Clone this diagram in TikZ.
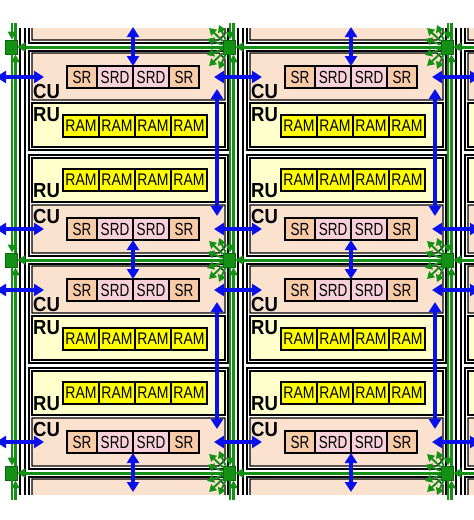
\documentclass[tikz,border=0pt]{standalone}
\usepackage{fontspec}
\setmainfont{Liberation Sans}
\usepackage{graphicx}
\usetikzlibrary{arrows.meta,calc,positioning,shapes.misc}

\definecolor{cufill}{RGB}{251,226,207}
\definecolor{rufill}{RGB}{255,255,204}
\definecolor{srfill}{RGB}{247,203,168}
\definecolor{srdfill}{RGB}{247,208,218}
\definecolor{ramfill}{RGB}{255,255,0}
\definecolor{netgreen}{RGB}{20,145,20}
\definecolor{linkblue}{RGB}{8,16,235}

\newcommand{\srtxt}[1]{\scalebox{1}[1.3]{#1}}
\newcommand{\ramtxt}[1]{\scalebox{1}[1.2]{#1}}
\newcommand{\unittxt}[1]{\scalebox{1}[1.1]{\bfseries #1}}

\begin{document}
\begin{tikzpicture}[
    x=1pt, y=-1pt,
    tileframe/.style={draw=black,line width=1.2pt,fill=white},
    cubox/.style={draw=black,line width=1.4pt,fill=cufill},
    rubox/.style={draw=black,line width=1.4pt,fill=rufill},
    blk/.style={draw=black,line width=1.1pt,inner sep=0pt,outer sep=0pt,minimum height=22pt,anchor=west},
    srblk/.style={blk,fill=srfill,minimum width=30pt,font=\fontsize{13.5}{14}\selectfont},
    srdblk/.style={blk,fill=srdfill,minimum width=36pt,font=\fontsize{13.5}{14}\selectfont},
    ramblk/.style={blk,fill=ramfill,minimum width=36pt,font=\fontsize{14}{15}\selectfont},
    unit/.style={inner sep=0pt,font=\fontsize{18.5}{19}\selectfont},
    router/.style={chamfered rectangle,chamfered rectangle corners={north west,south west},
        chamfered rectangle xsep=3pt,draw=netgreen!70!black,fill=netgreen,line width=0.6pt,
        inner sep=0pt,minimum width=12pt,minimum height=14pt},
    greenlink/.style={draw=netgreen,line width=2.4pt,-{Triangle[length=8pt,width=8pt]}},
    buslink/.style={draw=netgreen,line width=3pt,-{Triangle[length=8pt,width=9pt]}},
    fanlink/.style={draw=netgreen,line width=2pt,-{Triangle[length=7pt,width=8pt]}},
    duplex/.style={draw=linkblue,line width=3.5pt,{Triangle[length=10pt,width=12pt]}-{Triangle[length=10pt,width=12pt]}},
]
    \useasboundingbox[fill=white] (0,0) rectangle (474,520);

    % tiles
    \begin{scope}
    \clip (0,28) rectangle (474,494);
    \foreach \k in {0,1,2} {
      \pgfmathsetmacro{\xo}{29+218*\k}
      \draw[line width=1.1pt] (\xo-9,0) -- (\xo-9,520) (\xo-4,0) -- (\xo-4,520);
      \foreach \p in {0,1,2,3} {
        \pgfmathsetmacro{\yo}{-166+213*\p}
        % CU over RU
        \draw[tileframe] (\xo,\yo+4) rectangle (\xo+199,\yo+103);
        \draw[cubox] (\xo+3,\yo+6) -- (\xo+190,\yo+6) -- (\xo+196,\yo+12)
            -- (\xo+196,\yo+53) -- (\xo+3,\yo+53) -- cycle;
        \draw[rubox] (\xo+3,\yo+56) rectangle (\xo+196,\yo+100);
        % RU over CU
        \draw[tileframe] (\xo,\yo+108) rectangle (\xo+199,\yo+209);
        \draw[rubox] (\xo+3,\yo+111) rectangle (\xo+196,\yo+155);
        \draw[cubox] (\xo+3,\yo+158) -- (\xo+196,\yo+158) -- (\xo+196,\yo+200)
            -- (\xo+190,\yo+206) -- (\xo+3,\yo+206) -- cycle;
        \coordinate (vs-\k-\p) at (\xo+104,\yo+193);
        \coordinate (ve-\k-\p) at (\xo+104,\yo+19);
        \ifnum\k<2 \ifnum\p>0 \ifnum\p<3
          \node[srblk] (a1-\k-\p) at (\xo+38,\yo+30) {\srtxt{SR}};
          \node[srdblk,right=0pt of a1-\k-\p] (a2-\k-\p) {\srtxt{SRD}};
          \node[srdblk,right=0pt of a2-\k-\p] (a3-\k-\p) {\srtxt{SRD}};
          \node[srblk,right=0pt of a3-\k-\p] (a4-\k-\p) {\srtxt{SR}};
          \foreach \j in {1,...,4}
            \node[ramblk] (ma\j-\k-\p) at (\xo+34+36*\j-36,\yo+79) {\ramtxt{RAM}};
          \node[unit,anchor=south west] (cua-\k-\p) at (\xo+4,\yo+52) {\unittxt{CU}};
          \node[unit,anchor=north west] (rua-\k-\p) at (\xo+4,\yo+60) {\unittxt{RU}};
          \foreach \j in {1,...,4}
            \node[ramblk] (mb\j-\k-\p) at (\xo+34+36*\j-36,\yo+133) {\ramtxt{RAM}};
          \node[srblk] (b1-\k-\p) at (\xo+38,\yo+182) {\srtxt{SR}};
          \node[srdblk,right=0pt of b1-\k-\p] (b2-\k-\p) {\srtxt{SRD}};
          \node[srdblk,right=0pt of b2-\k-\p] (b3-\k-\p) {\srtxt{SRD}};
          \node[srblk,right=0pt of b3-\k-\p] (b4-\k-\p) {\srtxt{SR}};
          \node[unit,anchor=south west] (rub-\k-\p) at (\xo+4,\yo+151) {\unittxt{RU}};
          \node[unit,anchor=north west] (cub-\k-\p) at (\xo+4,\yo+162) {\unittxt{CU}};
        \fi\fi\fi
      }
    }
    \end{scope}

    % network
    \begin{scope}
    \clip (0,23) rectangle (474,499);
    \foreach \k in {0,...,3} {
      \foreach \p in {0,...,4}
        \node[router] (r-\k-\p) at (11+218*\k,-166+213*\p) {};
    }
    \foreach \k [evaluate=\k as \kn using int(\k+1)] in {0,1,2} {
      \foreach \p in {1,2,3}
        \draw[buslink] (r-\kn-\p) -- (r-\k-\p);
    }
    \foreach \k in {0,...,3} {
      \foreach \p [evaluate=\p as \pn using int(\p+1)] in {0,...,3} {
        \draw[greenlink] ([xshift=1pt]r-\k-\p.south) -- ([xshift=1pt]r-\k-\pn.north);
        \draw[greenlink] ([xshift=4.5pt]r-\k-\pn.north) -- ([xshift=4.5pt]r-\k-\p.south);
      }
    }
    \foreach \k in {1,2,3} {
      \foreach \p in {1,2,3} {
        \foreach \dx/\dy [count=\i] in {-20/-19,-22/-8,-10/-22,-20/19,-22/8,-10/22} {
          \coordinate (f\i-\k-\p) at ($(r-\k-\p)+(\dx,\dy)$);
          \draw[fanlink] (r-\k-\p) -- (f\i-\k-\p);
        }
      }
    }
    \foreach \k in {0,1,2} {
      \pgfmathsetmacro{\xo}{29+218*\k}
      \foreach \p [evaluate=\p as \pp using int(\p-1)] in {1,2,3}
        \draw[duplex] (vs-\k-\pp) -- (ve-\k-\p);
      \foreach \p in {1,2} {
        \pgfmathsetmacro{\yo}{-166+213*\p}
        \coordinate (hl-\k-\p) at (\xo-33,\yo+30);
        \coordinate (hr-\k-\p) at (\xo+15,\yo+30);
        \coordinate (gl-\k-\p) at (\xo-33,\yo+182);
        \coordinate (gr-\k-\p) at (\xo+15,\yo+182);
        \coordinate (vt-\k-\p) at (\xo+188,\yo+42);
        \coordinate (vb-\k-\p) at (\xo+188,\yo+169);
        \draw[duplex] (hl-\k-\p) -- (hr-\k-\p);
        \draw[duplex] (gl-\k-\p) -- (gr-\k-\p);
        \draw[duplex] (vt-\k-\p) -- (vb-\k-\p);
      }
    }
    \end{scope}
\end{tikzpicture}
\end{document}
